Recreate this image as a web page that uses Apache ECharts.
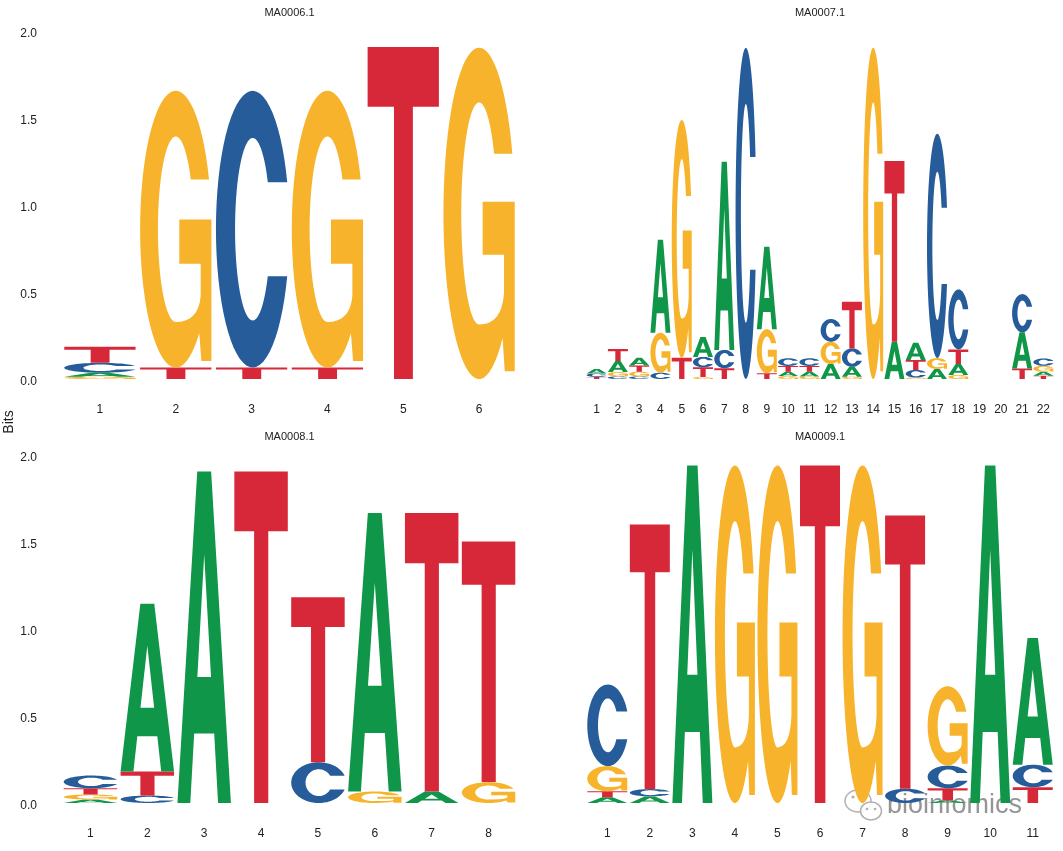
<!DOCTYPE html>
<html>
<head>
<meta charset="utf-8">
<script src="https://cdn.jsdelivr.net/npm/echarts@6/dist/echarts.min.js"></script>
<style>
html,body{margin:0;padding:0;background:#fff;}
#chart{width:1063px;height:851px;}
</style>
</head>
<body>
<div id="chart"></div>
<script>
// ---------- data (bits per letter, per position) ----------
const letters = ['A', 'C', 'G', 'T'];
const motifNames = ['MA0006.1', 'MA0007.1', 'MA0008.1', 'MA0009.1'];

const ma0006_A = [0.023, 0, 0, 0, 0, 0];
const ma0006_C = [0.057, 0, 1.59, 0, 0, 0];
const ma0006_G = [0.013, 1.59, 0, 1.59, 0, 1.904];
const ma0006_T = [0.092, 0.066, 0.066, 0.066, 1.908, 0];

const ma0007_A = [0.025, 0.064, 0.045, 0.535, 0, 0.115, 1.082, 0, 0.474, 0.025, 0.028, 0.086, 0.057, 0, 0.214, 0.1, 0.058, 0.063, 0, 0, 0.207, 0.023];
const ma0007_C = [0.02, 0.015, 0.015, 0.036, 0, 0.06, 0.105, 1.904, 0, 0.044, 0.044, 0.131, 0.106, 0, 0, 0.044, 1.29, 0.345, 0, 0, 0.22, 0.042];
const ma0007_G = [0, 0.025, 0.027, 0.23, 1.367, 0.012, 0, 0, 0.253, 0.017, 0.014, 0.128, 0.013, 1.904, 0, 0.008, 0.062, 0.023, 0, 0, 0, 0.034];
const ma0007_T = [0.012, 0.068, 0.035, 0, 0.122, 0.055, 0.062, 0, 0.033, 0.033, 0.033, 0, 0.268, 0, 1.039, 0.057, 0, 0.084, 0, 0, 0.061, 0.019];

const ma0008_A = [0.02, 0.964, 1.905, 0, 0, 1.6, 0.066, 0];
const ma0008_C = [0.073, 0.043, 0, 0, 0.234, 0, 0, 0];
const ma0008_G = [0.029, 0, 0, 0, 0, 0.066, 0, 0.12];
const ma0008_T = [0.036, 0.138, 0, 1.905, 0.949, 0, 1.6, 1.383];

const ma0009_A = [0.033, 0.038, 1.94, 0, 0, 0, 0, 0, 0.014, 1.94, 0.728];
const ma0009_C = [0.469, 0.042, 0, 0, 0, 0, 0, 0.082, 0.13, 0, 0.129];
const ma0009_G = [0.144, 0, 0, 1.94, 1.94, 0, 1.94, 0, 0.456, 0, 0];
const ma0009_T = [0.035, 1.52, 0, 0, 0, 1.94, 0, 1.571, 0.071, 0, 0.091];

const yTicks = [0, 0.5, 1.0, 1.5, 2.0];

const motifs = [
  [ma0006_A, ma0006_C, ma0006_G, ma0006_T],
  [ma0007_A, ma0007_C, ma0007_G, ma0007_T],
  [ma0008_A, ma0008_C, ma0008_G, ma0008_T],
  [ma0009_A, ma0009_C, ma0009_G, ma0009_T]
];

// ---------- glyph outlines (unit box 0..100) ----------
const COLORS = ['#109648', '#255C99', '#F7B32B', '#D62839'];
function f(n) { return n.toFixed(2); }
function glyphA() {
  return 'M0 100 L37 0 L63 0 L100 100 L76 100 L68.7 79 L31.3 79 L24 100 Z ' +
         'M37.2 62 L62.8 62 L50 25 Z';
}
function glyphT() {
  return 'M0 0 L100 0 L100 18 L63.5 18 L63.5 100 L37 100 L37 18 L0 18 Z';
}
function glyphC() {
  const N = 60;
  const a1 = Math.asin(17 / 50), a2 = Math.asin(17 / 33);
  let d = '';
  for (let i = 0; i <= N; i++) {
    const t = -a1 - i * (2 * Math.PI - 2 * a1) / N;
    d += (i === 0 ? 'M' : 'L') + f(50 + 50 * Math.cos(t)) + ' ' + f(50 + 50 * Math.sin(t)) + ' ';
  }
  for (let i = 0; i <= N; i++) {
    const t = -(2 * Math.PI - a2) + i * (2 * Math.PI - 2 * a2) / N;
    d += 'L' + f(50 + 24 * Math.cos(t)) + ' ' + f(50 + 33 * Math.sin(t)) + ' ';
  }
  return d + 'Z';
}
function glyphG() {
  const N = 60;
  const a1 = Math.asin(18 / 50), b = 0.85;
  const a2 = Math.asin(18 / 33.5);
  let d = '';
  const tStart = 2 * Math.PI - a1;
  for (let i = 0; i <= N; i++) {
    const t = tStart - i * (tStart - b) / N;
    d += (i === 0 ? 'M' : 'L') + f(50 + 50 * Math.cos(t)) + ' ' + f(50 + 50 * Math.sin(t)) + ' ';
  }
  d += 'L86 97.6 L100 97.6 L100 46.5 L55 46.5 L55 62.5 L85 62.5 L85 74 Q82 83.5 50 83.5 ';
  for (let i = 0; i <= N; i++) {
    const t = Math.PI / 2 + i * ((2 * Math.PI - a2) - Math.PI / 2) / N;
    d += 'L' + f(50 + 25 * Math.cos(t)) + ' ' + f(50 + 33.5 * Math.sin(t)) + ' ';
  }
  return d + 'Z';
}
const GLYPHS = [glyphA(), glyphC(), glyphG(), glyphT()];

// ---------- layout ----------
const grids = [
  { left: 62, top: 31, width: 455, height: 348 },
  { left: 586, top: 31, width: 468, height: 348 },
  { left: 62, top: 455, width: 455, height: 348 },
  { left: 586, top: 455, width: 468, height: 348 }
];
const TXT = '#222222';
const FONT = 'Liberation Sans, Arial, sans-serif';

function buildData(m) {
  const n = m[0].length;
  const out = [];
  for (let p = 0; p < n; p++) {
    const items = [];
    for (let l = 0; l < 4; l++) if (m[l][p] > 0) items.push([l, m[l][p]]);
    items.sort((a, b) => a[1] - b[1]);
    let cum = 0;
    for (const [l, h] of items) {
      out.push([p, cum, cum + h, l]);
      cum += h;
    }
  }
  return out;
}

function renderItem(params, api) {
  const idx = api.value(0), y0 = api.value(1), y1 = api.value(2), L = api.value(3);
  const pTop = api.coord([idx, y1]);
  const pBot = api.coord([idx, y0]);
  const bw = api.size([1, 0])[0] * 0.94;
  return {
    type: 'path',
    shape: {
      pathData: GLYPHS[L],
      x: pTop[0] - bw / 2,
      y: pTop[1],
      width: bw,
      height: Math.max(0.3, pBot[1] - pTop[1]),
      layout: 'cover'
    },
    style: { fill: COLORS[L] }
  };
}

const xAxes = [], yAxes = [], series = [], graphics = [];
motifs.forEach((m, i) => {
  const n = m[0].length;
  const cats = [];
  for (let k = 1; k <= n; k++) cats.push(String(k));
  xAxes.push({
    type: 'category', gridIndex: i, data: cats, boundaryGap: true,
    axisLine: { show: false }, axisTick: { show: false }, splitLine: { show: false },
    axisLabel: { color: TXT, fontSize: 12, fontFamily: FONT, margin: 25, interval: 0 }
  });
  yAxes.push({
    type: 'value', gridIndex: i, min: yTicks[0], max: yTicks[yTicks.length - 1], interval: 0.5,
    axisLine: { show: false }, axisTick: { show: false }, splitLine: { show: false },
    axisLabel: {
      show: i % 2 === 0, color: TXT, fontSize: 12, fontFamily: FONT, margin: 25,
      verticalAlign: 'top', lineHeight: 6,
      formatter: v => v.toFixed(1)
    }
  });
  series.push({
    type: 'custom', xAxisIndex: i, yAxisIndex: i,
    renderItem: renderItem,
    encode: { x: 0, y: [1, 2] },
    data: buildData(m),
    silent: true, animation: false
  });
  const g = grids[i];
  graphics.push({
    type: 'text', x: g.left + g.width / 2, y: g.top - 18,
    style: { text: motifNames[i], fill: TXT, font: '11px ' + FONT, textAlign: 'center', textVerticalAlign: 'middle' }
  });
});

graphics.push({
  type: 'text', x: 9, y: 422, rotation: Math.PI / 2,
  style: { text: 'Bits', fill: TXT, font: '14px ' + FONT, textAlign: 'center', textVerticalAlign: 'middle' }
});
// watermark
graphics.push({
  type: 'group', z: 100, children: [
    { type: 'ellipse', shape: { cx: 858, cy: 801, rx: 13, ry: 11 }, style: { fill: 'rgba(255,255,255,0.9)', stroke: '#b0b0b0', lineWidth: 1.5 } },
    { type: 'ellipse', shape: { cx: 871, cy: 811, rx: 10.5, ry: 9 }, style: { fill: 'rgba(255,255,255,0.9)', stroke: '#b0b0b0', lineWidth: 1.5 } },
    { type: 'circle', shape: { cx: 853, cy: 797, r: 1.6 }, style: { fill: '#b0b0b0' } },
    { type: 'circle', shape: { cx: 862, cy: 797, r: 1.6 }, style: { fill: '#b0b0b0' } },
    { type: 'circle', shape: { cx: 867, cy: 809, r: 1.3 }, style: { fill: '#b0b0b0' } },
    { type: 'circle', shape: { cx: 875, cy: 809, r: 1.3 }, style: { fill: '#b0b0b0' } },
    { type: 'text', x: 887, y: 806, style: { text: 'bioinfomics', fill: 'rgba(130,130,130,0.85)', font: '27px ' + FONT, textAlign: 'left', textVerticalAlign: 'middle' } }
  ]
});

const chart = echarts.init(document.getElementById('chart'), null, { renderer: 'canvas' });
chart.setOption({
  backgroundColor: '#ffffff',
  animation: false,
  grid: grids,
  xAxis: xAxes,
  yAxis: yAxes,
  series: series,
  graphic: graphics
});
</script>
</body>
</html>
